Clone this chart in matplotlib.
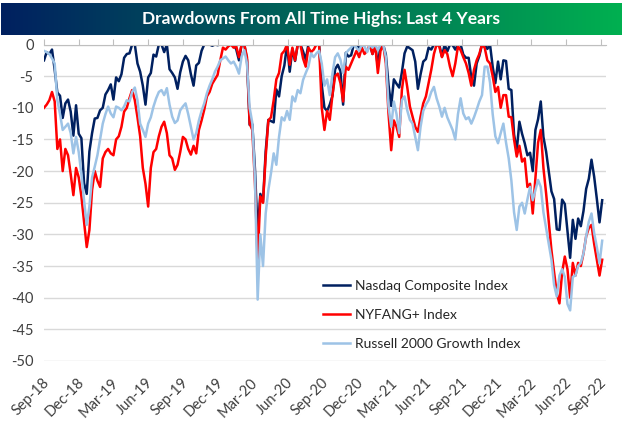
import numpy as np
import pandas as pd
import matplotlib
matplotlib.use("Agg")
import matplotlib.pyplot as plt
import matplotlib.transforms as mtransforms

plt.rcParams['font.family'] = ['Lato', 'DejaVu Sans']
plt.rcParams['axes.unicode_minus'] = False

# weekly closes, % below prior all time high
dates = pd.date_range('2018-09-07', periods=210, freq='7D')

nasdaq = [-2.5,
    -1.2, -1.5, -0.8, -4.0, -7.6, -8.1, -11.6, -9.3, -8.7, -10.6,
    -14.4, -9.6, -14.1, -14.8, -21.9, -23.6, -16.9, -14.0, -11.7, -11.6,
    -10.4, -10.0, -7.9, -7.2, -6.3, -8.7, -5.2, -5.8, -4.7, -2.1,
    -1.5, -1.4, 0.0, 0.0, -3.0, -4.3, -6.5, -9.5, -5.2, -4.5,
    -1.6, -1.9, 0.0, 0.0, -1.2, 0.0, -3.9, -4.5, -5.2, -7.0,
    -4.4, -2.7, -1.8, -2.5, -4.7, -6.5, -3.3, -2.9, -1.0, 0.0,
    0.0, 0.0, -0.2, 0.0, -0.1, 0.0, 0.0, 0.0, 0.0, 0.0,
    0.0, -0.8, -2.5, 0.0, 0.0, -2.4, -12.7, -12.6, -19.8, -29.9,
    -23.6, -24.9, -16.9, -11.9, -12.1, -12.3, -7.1, -8.2, -5.0, -3.3,
    0.0, -4.3, -0.7, -2.6, 0.0, 0.0, -1.1, -2.4, 0.0, 0.0,
    0.0, 0.0, 0.0, -6.4, -10.0, -10.5, -9.5, -8.1, -3.9, -3.2,
    -4.2, -9.5, -1.3, -1.9, -1.7, 0.0, 0.0, -0.7, 0.0, 0.0,
    0.0, 0.0, -1.5, 0.0, -3.5, 0.0, 0.0, -1.6, -6.4, -9.7,
    -5.5, -6.2, -6.8, -4.4, -1.4, -0.3, -0.6, -0.9, -2.7, -7.0,
    -4.7, -2.7, -2.3, -0.5, -0.8, 0.0, 0.0, 0.0, -1.9, 0.0,
    -1.1, 0.0, -0.1, -0.8, 0.0, 0.0, -1.6, -2.1, -2.1, -5.2,
    -6.5, -3.0, -1.8, 0.0, 0.0, -0.7, 0.0, -3.5, -6.1, -2.7,
    -5.5, -2.5, -2.6, -7.0, -7.2, -14.2, -16.8, -12.2, -14.1, -15.6,
    -17.5, -17.1, -20.0, -13.5, -11.8, -9.0, -14.6, -16.9, -20.0, -23.2,
    -24.4, -29.2, -29.3, -24.5, -25.2, -29.4, -33.7, -27.7, -30.7, -27.5,
    -28.7, -26.3, -22.8, -21.2, -18.2, -20.9, -24.4, -28.1, -24.6]

nyfang = [-10.0,
    -9.5, -8.8, -7.5, -9.0, -16.5, -15.0, -20.0, -16.5, -17.5, -20.5,
    -23.8, -19.5, -21.0, -24.0, -28.0, -32.0, -29.3, -23.0, -20.0, -21.5,
    -22.5, -18.0, -17.0, -16.5, -17.2, -17.5, -15.0, -14.5, -13.0, -10.6,
    -10.0, -8.5, -7.2, -8.8, -11.5, -14.5, -19.5, -22.0, -25.6, -19.5,
    -17.0, -16.5, -14.5, -13.0, -12.2, -14.0, -17.5, -18.0, -19.8, -19.0,
    -17.0, -14.6, -15.0, -16.5, -17.4, -16.0, -17.2, -13.5, -12.0, -10.3,
    -8.2, -7.5, -6.2, -5.5, -4.8, -2.5, -0.5, -0.8, -0.3, 0.0,
    -0.5, -0.3, -2.0, 0.0, 0.0, -2.0, -12.5, -13.5, -22.0, -34.0,
    -24.0, -25.0, -17.7, -12.0, -11.5, -8.8, -5.5, -4.5, -1.5, -1.0,
    0.0, -3.2, -0.5, -2.5, 0.0, 0.0, -2.2, -3.5, -0.5, -1.2,
    -0.8, 0.0, 0.0, -10.0, -13.5, -10.5, -11.9, -8.0, -5.0, -4.6,
    -6.1, -9.0, -3.5, -4.0, -3.0, -2.0, -1.0, -2.0, -0.5, -1.5,
    -1.0, 0.0, -1.5, 0.0, -4.5, -1.0, 0.0, -3.0, -10.9, -16.7,
    -12.0, -13.0, -14.6, -7.2, -4.0, -6.7, -9.8, -11.4, -13.0, -13.8,
    -11.4, -9.3, -8.2, -6.1, -4.0, -1.5, 0.0, -0.3, -2.0, -0.9,
    -1.5, -3.5, -5.0, -3.0, -0.3, -0.9, -2.0, -3.0, -4.5, -6.5,
    -4.0, -2.5, -1.5, 0.0, -0.5, -2.5, -3.0, -5.0, -7.5, -6.7,
    -10.0, -8.0, -8.0, -11.4, -11.5, -15.0, -17.7, -16.0, -18.5, -18.0,
    -22.5, -22.0, -26.7, -21.0, -15.5, -13.5, -19.5, -23.5, -28.0, -32.5,
    -36.0, -39.3, -40.9, -36.0, -33.5, -35.5, -40.0, -34.5, -36.5, -34.5,
    -35.0, -33.0, -30.3, -29.0, -28.5, -31.5, -34.0, -36.5, -34.0]

russell = [-1.0,
    -1.2, -1.5, -2.2, -3.0, -8.8, -11.0, -13.5, -13.0, -12.5, -14.0,
    -17.2, -14.6, -17.0, -20.5, -24.6, -28.5, -25.6, -21.0, -19.3, -17.5,
    -15.0, -12.5, -11.0, -9.8, -10.9, -11.5, -9.8, -10.0, -10.4, -9.8,
    -8.8, -9.0, -7.5, -6.8, -8.8, -12.5, -13.5, -14.6, -12.5, -11.5,
    -9.8, -8.5, -7.5, -7.2, -8.0, -6.9, -9.5, -11.4, -12.4, -12.0,
    -10.4, -9.8, -9.3, -11.0, -13.0, -15.0, -14.0, -12.0, -10.5, -9.3,
    -7.7, -6.5, -5.5, -4.3, -3.5, -2.5, -2.2, -1.9, -2.5, -3.0,
    -2.7, -3.5, -4.6, -1.9, -0.9, -3.0, -10.0, -12.4, -21.4, -40.3,
    -30.0, -35.0, -26.7, -23.0, -20.3, -17.2, -19.0, -14.6, -11.5, -12.0,
    -10.5, -11.9, -8.2, -9.0, -7.2, -7.7, -5.6, -4.5, -3.5, -1.4,
    -2.0, -1.4, -1.0, -3.0, -6.5, -5.5, -8.0, -4.6, -2.0, -1.4,
    -2.4, -4.5, -1.4, -0.9, -0.5, 0.0, -0.5, -1.0, 0.0, -0.3,
    -1.2, 0.0, -0.5, 0.0, -0.9, 0.0, 0.0, -2.0, -9.8, -13.0,
    -9.0, -11.0, -14.0, -8.8, -8.2, -10.4, -11.9, -12.5, -14.6, -16.7,
    -13.0, -10.5, -9.5, -8.8, -7.5, -6.7, -8.5, -9.8, -11.4, -10.0,
    -11.5, -12.5, -13.5, -15.0, -11.0, -8.5, -10.9, -11.8, -11.5, -12.5,
    -11.5, -10.3, -9.0, -8.0, -3.5, -3.5, -6.0, -11.0, -14.5, -15.6,
    -14.0, -12.5, -15.5, -18.0, -21.5, -26.5, -29.3, -25.6, -25.0, -26.7,
    -24.5, -22.5, -24.6, -23.0, -21.4, -22.5, -26.5, -29.0, -31.5, -34.0,
    -38.0, -39.8, -36.5, -35.5, -36.7, -41.0, -42.0, -36.7, -36.5, -35.0,
    -34.5, -33.0, -30.3, -28.0, -26.7, -29.8, -32.0, -34.6, -31.0]

names = ['Nasdaq Composite Index', 'NYFANG+ Index', 'Russell 2000 Growth Index']
colors = ['#002060', '#FF0000', '#9DC3E6']
tick_dates = pd.date_range('2018-09-07', periods=17, freq=pd.DateOffset(months=3))

fig = plt.figure(figsize=(6.23, 4.22), dpi=100)

# title banner with gradient
bar = fig.add_axes([0.002, 1 - 35 / 422, 0.996, 32 / 422])
grad = np.linspace(0, 1, 256).reshape(1, -1)
cmap = matplotlib.colors.LinearSegmentedColormap.from_list('band', ['#002060', '#00B050'])
bar.imshow(grad, aspect='auto', cmap=cmap, extent=[0, 1, 0, 1])
bar.set_axis_off()
bar.text(0.515, 0.5, 'Drawdowns From All Time Highs: Last 4 Years', color='white',
         fontsize=12.5, fontweight='bold', ha='center', va='center', transform=bar.transAxes)

ax = fig.add_axes([44 / 623, 1 - 361 / 422, 562 / 623, 316.5 / 422])
for vals, name, c in zip([nasdaq, nyfang, russell], names, colors):
    ax.plot(dates, vals, color=c, lw=1.8, label=name)

ax.set_ylim(-50, 0)
ax.set_yticks(np.arange(-50, 1, 5))
ax.set_xlim(pd.Timestamp('2018-09-07'), pd.Timestamp('2022-09-19'))
ax.set_xticks(tick_dates)
ax.set_xticklabels([d.strftime('%b-%y') for d in tick_dates], rotation=45,
                   ha='right', va='center', rotation_mode='anchor')
ax.grid(axis='y', color='#D9D9D9', lw=1)
ax.set_axisbelow(True)
for s in ['left', 'right', 'bottom']:
    ax.spines[s].set_visible(False)
ax.spines['top'].set_color('#BFBFBF')
ax.tick_params(axis='x', bottom=False, top=True, labelbottom=True, labeltop=False,
               direction='out', length=4, color='#BFBFBF', pad=10, labelsize=10.5,
               labelcolor='#404040')
ax.tick_params(axis='y', left=False, pad=4, labelsize=10.5, labelcolor='#404040')

offset = mtransforms.ScaledTranslation(3 / 100, 0, fig.dpi_scale_trans)
for lbl in ax.get_xticklabels():
    lbl.set_transform(lbl.get_transform() + offset)

ax.legend(loc='upper left', bbox_to_anchor=(0.497, 0.2575), frameon=False,
          fontsize=10, handlelength=1.9, handletextpad=0.35, labelspacing=1.25,
          borderpad=0, borderaxespad=0, labelcolor='#262626')

fig.savefig('out.png', dpi=100)
